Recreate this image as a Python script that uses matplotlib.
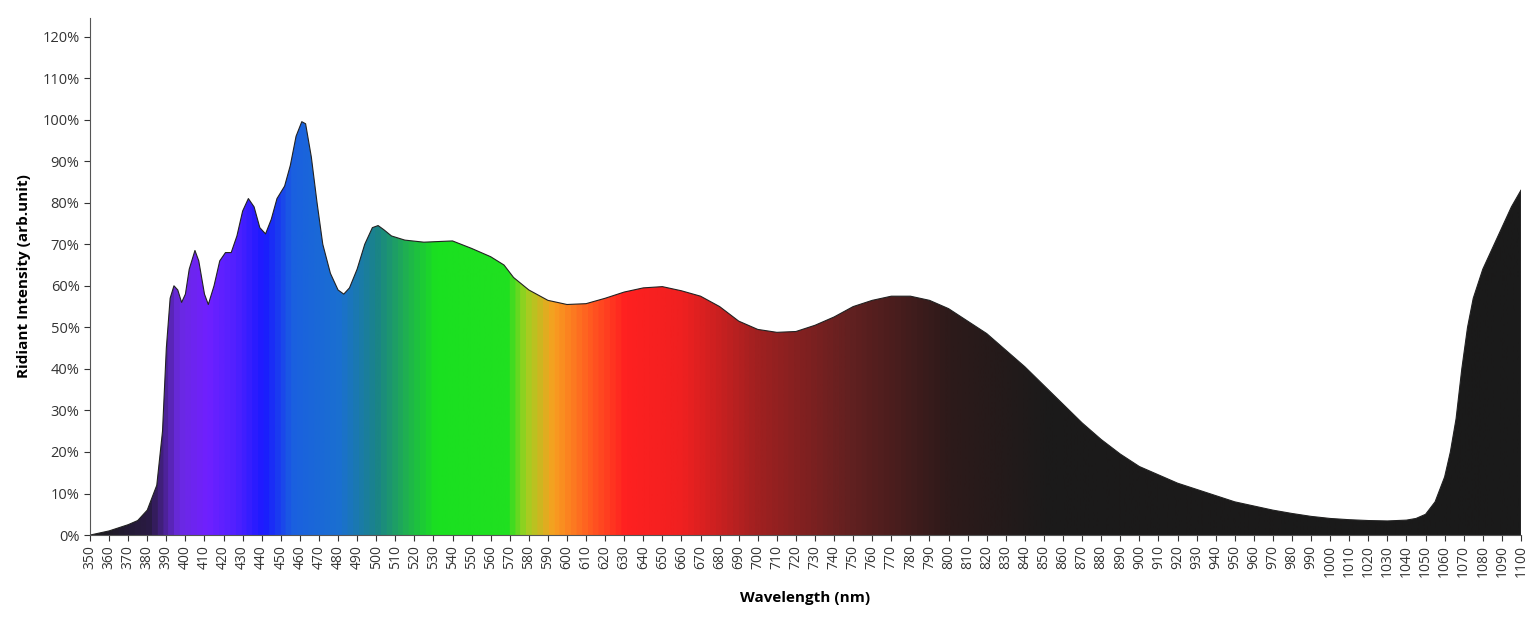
import numpy as np
import matplotlib
matplotlib.use("Agg")
import matplotlib.pyplot as plt
from matplotlib.colors import LinearSegmentedColormap
from matplotlib.ticker import FuncFormatter

plt.rcParams['font.family'] = ['Open Sans', 'DejaVu Sans']

wavelength = [350,360,370,375,380,385,388,390,392,394,396,398,400,402,405,407,410,412,415,418,421,424,427,430,433,436,439,442,445,448,452,455,458,461,463,466,469,472,476,480,483,486,490,494,498,501,504,508,515,525,540,550,560,567,572,580,590,600,610,620,630,640,650,660,670,680,690,700,710,720,730,740,750,760,770,780,790,800,810,820,830,840,850,860,870,880,890,900,910,920,930,940,950,960,970,980,990,1000,1010,1020,1030,1040,1045,1050,1055,1060,1063,1066,1069,1072,1075,1080,1085,1090,1095,1100]
intensity = [0,1,2.5,3.5,6,12,25,45,57,60,59,56,58,64,68.5,66,58,55.5,60,66,68,68,72,78,81,79,74,72.5,76,81,84,89,96,99.5,99,91,80,70,63,59,58,59.5,64,70,74,74.5,73.5,72,71,70.5,70.8,69,67,65,62,59,56.5,55.5,55.7,57,58.5,59.5,59.8,58.8,57.5,55,51.5,49.5,48.8,49,50.5,52.5,55,56.5,57.5,57.5,56.5,54.5,51.5,48.5,44.5,40.5,36,31.5,27,23,19.5,16.5,14.5,12.5,11,9.5,8,7,6,5.2,4.5,4,3.7,3.5,3.4,3.6,4,5,8,14,20,28,40,50,57,64,69,74,79,83]

color_stops = [(350,'#1a1a1a'),(380,'#2a1a45'),(395,'#6a2ae0'),(410,'#7020ff'),(425,'#5020ff'),(440,'#1a1aff'),(455,'#1a60e0'),(480,'#1a70d0'),(500,'#1a8585'),(515,'#20b050'),(530,'#1ae020'),(568,'#20e020'),(578,'#a0d020'),(592,'#f8a020'),(610,'#ff6020'),(630,'#ff2020'),(660,'#f02020'),(700,'#a02020'),(750,'#602020'),(800,'#2e1a1a'),(850,'#1c1a1a'),(1100,'#1a1a1a')]

fig = plt.figure(figsize=(15.36,6.37), dpi=100)
ax = fig.add_axes([0.0586, 0.160, 0.9316, 0.812])
wl0, wl1 = 350, 1100
cmap = LinearSegmentedColormap.from_list('spec', [((w-wl0)/(wl1-wl0), c) for w, c in color_stops])
ymax = 124.5
grad = np.linspace(0, 1, 1500).reshape(1, -1)
im = ax.imshow(grad, cmap=cmap, aspect='auto', extent=[wl0, wl1, 0, ymax], origin='lower', zorder=1)
poly = ax.fill_between(wavelength, intensity, 0, facecolor='none', edgecolor='none')
path = poly.get_paths()[0]
im.set_clip_path(path, transform=ax.transData)
ax.plot(wavelength, intensity, color='#222222', lw=0.8, zorder=2)

ax.set_xlim(wl0, wl1)
ax.set_ylim(0, ymax)
ax.set_xticks(np.arange(350, 1101, 10))
ax.set_xticklabels([str(v) for v in range(350, 1101, 10)], rotation=90, fontsize=10, color='#333333')
ax.set_yticks(np.arange(0, 121, 10))
ax.yaxis.set_major_formatter(FuncFormatter(lambda v, p: f"{int(v)}%"))
ax.tick_params(axis='y', labelsize=10.5, colors='#333333', length=4)
ax.tick_params(axis='x', length=4, colors='#333333')
for s in ['top','right']:
    ax.spines[s].set_visible(False)
for s in ['left','bottom']:
    ax.spines[s].set_color('#555555')
ax.set_xlabel('Wavelength (nm)', fontsize=11, fontweight='bold', labelpad=10)
ax.set_ylabel('Ridiant Intensity (arb.unit)', fontsize=11, fontweight='bold', labelpad=8)
fig.savefig('out.png', dpi=100)
